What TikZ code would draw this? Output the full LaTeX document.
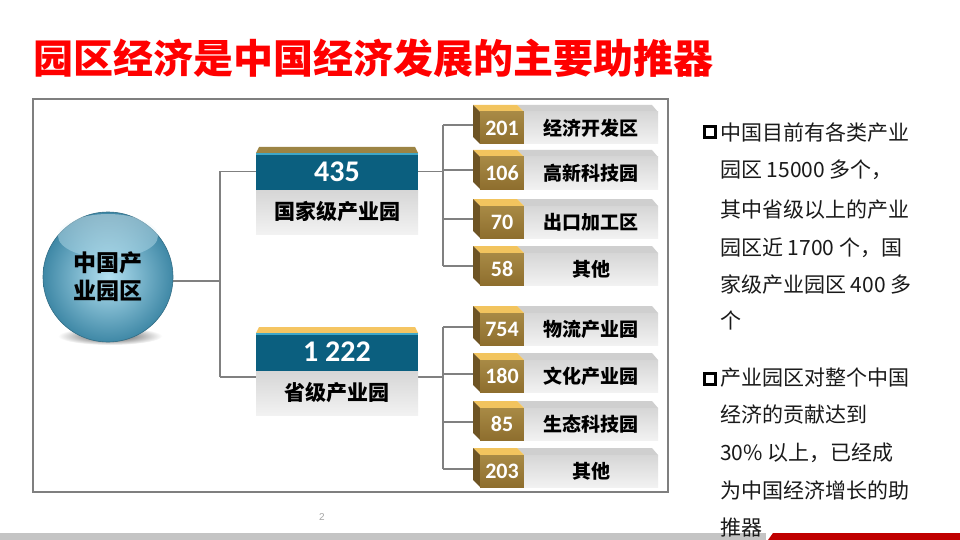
\documentclass[tikz,border=0pt]{standalone}
\usepackage{fontspec}
\setmainfont{Liberation Sans}
\newfontfamily\cjk{Noto Sans CJK SC}
\newfontfamily\numf{Carlito}
\usetikzlibrary{calc}
\pgfdeclarelayer{bg}
\pgfsetlayers{bg,main}
\definecolor{titlered}{HTML}{FF0000}
\definecolor{framegray}{HTML}{7F7F7F}
\definecolor{conngray}{HTML}{808080}
\definecolor{tealband}{HTML}{0B5F7F}
\definecolor{tealline}{HTML}{3FA7C8}
\definecolor{goldA}{HTML}{9C8444}
\definecolor{goldB}{HTML}{F5C562}
\definecolor{goldfaceT}{HTML}{A88A45}
\definecolor{goldfaceB}{HTML}{8E6E2E}
\definecolor{goldside}{HTML}{6E5424}
\definecolor{goldtop}{HTML}{F2C45E}
\definecolor{graytop}{HTML}{CFCFCF}
\definecolor{grayT}{HTML}{D6D6D6}
\definecolor{grayB}{HTML}{F2F2F2}
\definecolor{sphin}{HTML}{B4E1F1}
\definecolor{sphout}{HTML}{3F88A6}
\definecolor{barred}{HTML}{C00000}
\definecolor{bargray}{HTML}{C4C4C4}
\definecolor{bodyc}{HTML}{1A1A1A}
\newcommand\parkbox[4]{%
  \fill[graytop] (524,{#2-16}) -- (517,{#2-23}) -- (652,{#2-23}) -- (658,{#2-16}) -- cycle;
  \fill[goldtop] (480,{#2-16}) -- (473,{#2-23}) -- (517,{#2-23}) -- (524,{#2-16}) -- cycle;
  \fill[goldside] (473,{#2-23}) -- (480,{#2-16}) -- (480,{#2+16}) -- (473,{#2+9}) -- cycle;
  \node[numface] (#1n) at (502,#2) {#3};
  \node[labface] (#1l) at (591,#2) {#4};
}
\begin{document}
\begin{tikzpicture}[x=1pt,y=-1pt,
  conn/.style={draw=conngray,line width=1.8pt},
  numface/.style={minimum width=44pt,minimum height=32pt,inner sep=0pt,
    top color=goldfaceT,bottom color=goldfaceB,text=white,
    font=\numf\bfseries\fontsize{22}{22}\selectfont},
  labface/.style={minimum width=134pt,minimum height=32pt,inner sep=0pt,
    top color=grayT,bottom color=grayB,text=black,
    font=\cjk\bfseries\fontsize{19}{19}\selectfont},
  tealbox/.style={fill=tealband,minimum width=162pt,inner sep=0pt,text=white,
    font=\numf\bfseries\fontsize{30}{30}\selectfont},
  graybox/.style={top color=grayT,bottom color=grayB,minimum width=162pt,
    minimum height=44pt,inner sep=0pt,text=black,
    font=\cjk\bfseries\fontsize{21}{21}\selectfont},
  bodytext/.style={anchor=west,inner sep=0pt,text=bodyc,
    font=\cjk\fontsize{21}{21}\selectfont},
  bulletbox/.style={draw=black,line width=2.8pt,minimum size=11pt,inner sep=0pt}
]
\useasboundingbox (0,0) rectangle (960,540);
\begin{pgfonlayer}{bg}
\fill[white] (0,0) rectangle (960,540);
\end{pgfonlayer}

% title
\node[anchor=west,inner sep=0pt,text=titlered,
  font=\cjk\bfseries\fontsize{40}{40}\selectfont] (title) at (33,58)
  {园区经济是中国经济发展的主要助推器};

% frame
\draw[draw=framegray,line width=1.8pt] (33,99) rectangle (668,492);

% sphere
\shade[inner color=black!75,outer color=white] (110,336) ellipse (52pt and 9pt);
\node[circle,minimum size=130pt,inner sep=0pt,inner color=sphin,outer color=sphout,
  draw=sphout!80!black,line width=0.6pt] (sph) at (108,277) {};
\shade[top color=white,bottom color=sphin,opacity=0.4] (108,236) ellipse (50pt and 22pt);
\node[align=center,inner sep=0pt,font=\cjk\bfseries\fontsize{23}{28}\selectfont] (sphtext) at (108,277)
  {中国产\\业园区};

% national box
\fill[goldA] (259,147) -- (415,147) -- (418,153) -- (256,153) -- cycle;
\node[tealbox,minimum height=37pt] (t1) at (337,171.5) {435};
\draw[tealline,line width=1.5pt] (256,153.8) -- (418,153.8);
\node[graybox] (g1) at (337,212) {国家级产业园};

% provincial box
\fill[goldB] (259,327) -- (415,327) -- (418,333) -- (256,333) -- cycle;
\node[tealbox,minimum height=38pt] (t2) at (337,352) {1 222};
\draw[tealline,line width=1.5pt] (256,333.8) -- (418,333.8);
\node[graybox] (g2) at (337,393) {省级产业园};

% small boxes
\parkbox{a}{128}{201}{经济开发区}
\parkbox{b}{173}{106}{高新科技园}
\parkbox{c}{222}{70}{出口加工区}
\parkbox{d}{269}{58}{其他}
\parkbox{e}{329}{754}{物流产业园}
\parkbox{f}{376}{180}{文化产业园}
\parkbox{g}{424}{85}{生态科技园}
\parkbox{h}{471}{203}{其他}

% connectors
\coordinate (j0) at (220,281);
\coordinate (j1) at (220,171.5);
\coordinate (j2) at (220,377);
\coordinate (k1) at (443,171.5);
\coordinate (k2) at (443,377);
\begin{pgfonlayer}{bg}
\draw[conn] (sph.east |- j0) -- (j0);
\draw[conn] (j1) -- (j2);
\draw[conn] (j1) -- (t1.west);
\draw[conn] (g2.west |- j2) -- (j2);
\draw[conn] (t1.east) -- (k1);
\draw[conn] (g2.east |- k2) -- (k2);
\draw[conn] (443,{128-3}) -- (443,{269-3});
\draw[conn] (443,{329-2}) -- (443,{471-2});
\foreach \b/\s in {a/3,b/3,c/3,d/3,e/2,f/2,g/2,h/2}{
  \draw[conn] ([yshift=\s pt]\b n.west) -- ++(-37,0);
}
\end{pgfonlayer}

% right text
\node[bulletbox] (bu1) at (710,132) {};
\node[bodytext] (r1) at (720,133) {中国目前有各类产业};
\node[bodytext] (r2) at (720,170) {园区 15000 多个，};
\node[bodytext] (r3) at (720,210) {其中省级以上的产业};
\node[bodytext] (r4) at (720,248) {园区近 1700 个，国};
\node[bodytext] (r5) at (720,285) {家级产业园区 400 多};
\node[bodytext] (r6) at (720,320) {个};
\node[bulletbox] (bu2) at (710,379) {};
\node[bodytext] (r7) at (720,378) {产业园区对整个中国};
\node[bodytext] (r8) at (720,415) {经济的贡献达到};
\node[bodytext] (r9) at (720,453) {30\% 以上，已经成};
\node[bodytext] (r10) at (720,490) {为中国经济增长的助};

% bottom bar
\fill[bargray] (0,533) rectangle (766,540);
\fill[barred] (768,540) -- (773,533) -- (960,533) -- (960,540) -- cycle;
\node[bodytext] (r11) at (720,528) {推器};
\node[inner sep=0pt,text=gray!70,font=\fontsize{10}{10}\selectfont] (pg) at (322,517) {2};
\end{tikzpicture}
\end{document}
